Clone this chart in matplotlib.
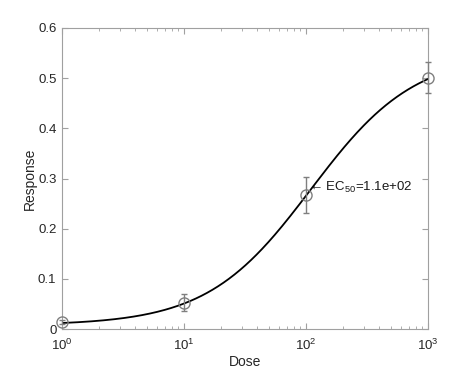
import numpy as np
import matplotlib
matplotlib.use("Agg")
import matplotlib.pyplot as plt
from matplotlib.ticker import FuncFormatter

# Data
dose = [1, 10, 100, 1000]
response = [0.013, 0.052, 0.267, 0.501]
err = [0.004, 0.017, 0.035, 0.031]

# Fitted Hill model parameters
bottom = 0.0075
top = 0.55
ec50 = 110.0
hill = 1.02

plt.rcParams['font.family'] = ['Liberation Sans', 'DejaVu Sans']
plt.rcParams['mathtext.fontset'] = 'custom'
plt.rcParams['mathtext.rm'] = 'Liberation Sans'
plt.rcParams['mathtext.it'] = 'Liberation Sans:italic'
plt.rcParams['mathtext.bf'] = 'Liberation Sans:bold'

fig = plt.figure(figsize=(4.74, 3.70), dpi=100)
ax = fig.add_axes([62/474, 1 - 329/370, (428-62)/474, (329-28)/370])

xf = np.logspace(0, 3, 400)
yf = bottom + (top - bottom) * xf**hill / (ec50**hill + xf**hill)
ax.plot(xf, yf, color='black', lw=1.3, zorder=3)

gray = '#7f7f7f'
eb = ax.errorbar(dose, response, yerr=err, fmt='o', mfc='none', mec=gray, ecolor=gray,
                 ms=8, mew=1.0, elinewidth=1.0, capsize=2.5, capthick=1.0, zorder=4)
for art in eb.lines[0:1] + tuple(eb.lines[1]) + tuple(eb.lines[2]):
    art.set_clip_on(False)

ax.annotate('\u2190 EC$_{50}$=1.1e+02', xy=(ec50 * 0.97, 0.283), fontsize=9.5,
            ha='left', va='center', color='#1a1a1a')

ax.set_xscale('log')
ax.set_xlim(1, 1000)
ax.set_ylim(0, 0.6)
ax.set_yticks([0, 0.1, 0.2, 0.3, 0.4, 0.5, 0.6])
ax.yaxis.set_major_formatter(FuncFormatter(lambda v, p: '0' if v == 0 else f'{v:g}'))

for s in ax.spines.values():
    s.set_color('#a0a0a0')
    s.set_linewidth(0.8)
ax.tick_params(which='both', direction='in', top=True, right=True, colors='#a0a0a0',
               labelcolor='#262626', labelsize=9.5)
ax.tick_params(which='major', length=4)
ax.tick_params(which='minor', length=2)
ax.tick_params(axis='x', which='major', pad=6)
ax.tick_params(axis='y', which='major', pad=4)

ax.set_xlabel('Dose', fontsize=10, color='#262626', labelpad=2)
ax.set_ylabel('Response', fontsize=10, color='#262626', labelpad=1)

fig.savefig('out.png', dpi=100, facecolor='white')
